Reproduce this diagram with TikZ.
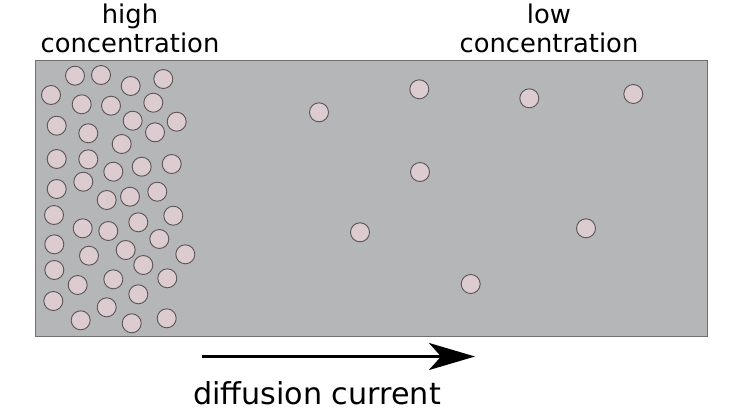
\documentclass[tikz,border=0pt]{standalone}
\usepackage{fontspec}
\setmainfont{DejaVu Sans}
\usetikzlibrary{arrows.meta}
\definecolor{boxfill}{HTML}{B4B6B8}
\definecolor{boxline}{HTML}{707070}
\definecolor{partfill}{HTML}{DCCBCF}
\definecolor{partline}{HTML}{5A5457}
\begin{document}
\begin{tikzpicture}[x=1pt,y=-1pt,
  particle/.style={circle, draw=partline, fill=partfill, line width=0.9pt, minimum size=19pt, inner sep=0pt},
  conclabel/.style={font=\fontsize{25.8}{29.5}\selectfont, align=center, inner sep=0pt},
  currlabel/.style={font=\fontsize{30.2}{36}\selectfont, inner sep=0pt}]
\useasboundingbox (0,0) rectangle (750,413);
\draw[draw=boxline, fill=boxfill, line width=1pt] (35.5,60.5) rectangle (707,336.5);
\foreach \px/\py [count=\k] in {
  75/75.7, 101/75, 130.7/86, 163.3/79,
  51/95, 81.7/104.3, 111/105.7, 153.3/102.7,
  56.7/125.7, 88.3/133.3, 132.7/120.7, 155/132.3, 176.7/121.7,
  121.7/144,
  56.7/159, 88.3/159.3, 113.3/171.7, 141.7/166.7, 171.7/164,
  56.7/189, 83.3/181.7, 106.7/200, 130/196.7, 157.3/191.7,
  54/215, 82.7/228.3, 108.3/231, 138.3/222.3, 173.3/215.7,
  54.3/244.3, 89/255.7, 125.7/250, 159.3/239, 185.3/254.3,
  54.3/270, 77.7/285, 113.3/279.3, 143.3/265, 167.3/278.3,
  53.3/301, 80.7/320.3, 106.7/307.3, 138.3/294.3, 131.7/323.3, 166.7/318.3,
  319/112.3, 419.3/89.3, 529.3/98.3, 633.3/94, 420/172, 360/232.3, 586/228.3, 470.7/284}
  \node[particle] (p\k) at (\px,\py) {};
\node[conclabel] (high) at (130,28.5) {high\\concentration};
\node[conclabel] (low) at (549,28.5) {low\\concentration};
\coordinate (arrstart) at (202,356.5);
\coordinate (arrend) at (475,356.5);
\draw[line width=3pt, -{Stealth[length=46pt, width=27pt, inset=12pt]}] (arrstart) -- (arrend);
\node[currlabel, anchor=base] (current) at (317,404) {diffusion current};
\end{tikzpicture}
\end{document}
